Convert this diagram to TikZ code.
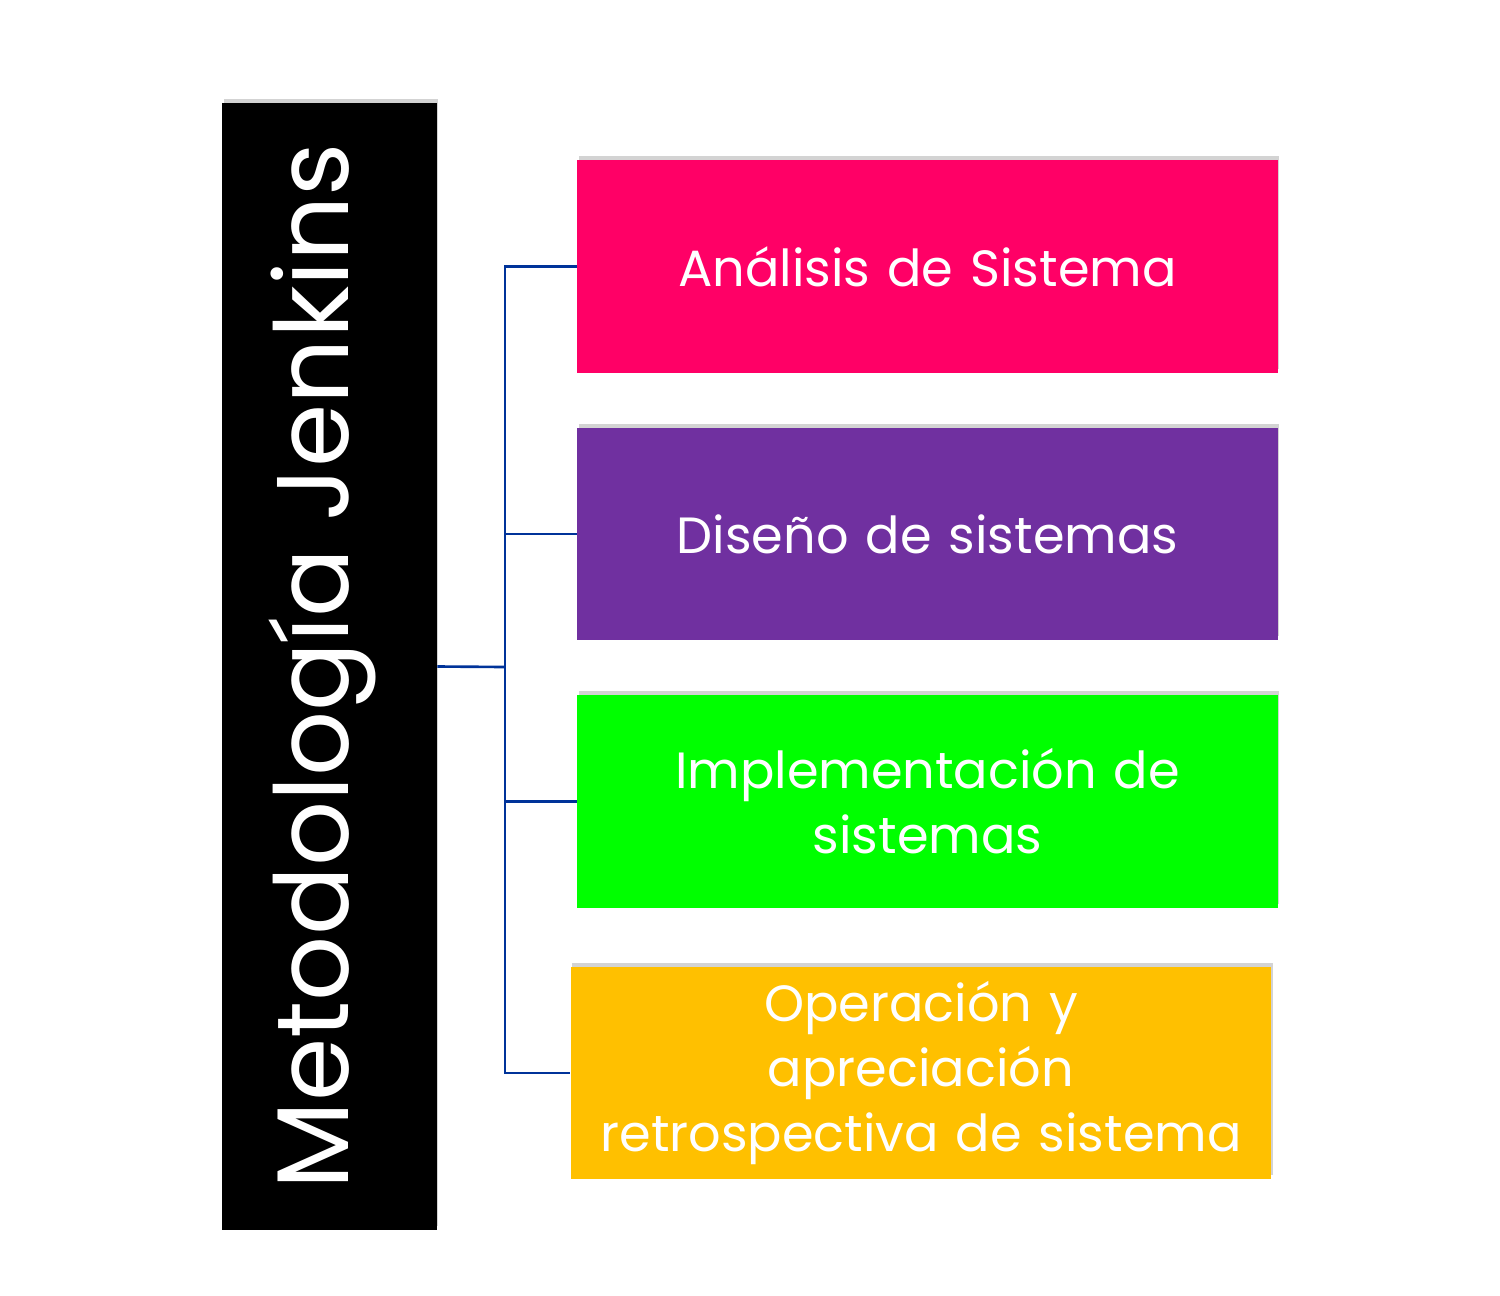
\documentclass[tikz,border=0pt]{standalone}
\usepackage{fontspec}
\setmainfont{Poppins}
\usetikzlibrary{shadows}
\definecolor{cA}{HTML}{FF0066}
\definecolor{cB}{HTML}{7030A0}
\definecolor{cC}{HTML}{00FF00}
\definecolor{cD}{HTML}{FFC000}
\definecolor{ln}{HTML}{003399}
\begin{document}
\begin{tikzpicture}[x=0.02cm,y=-0.02cm,
  box/.style={minimum width=14.02cm,minimum height=4.26cm,text width=13.8cm,align=center,text=white,font=\fontsize{29}{37}\selectfont,inner sep=0pt,drop shadow={shadow xshift=0.03cm,shadow yshift=0.08cm,opacity=0.35}},
  conn/.style={draw=ln,line width=1.5pt}]
\useasboundingbox (0,0) rectangle (1500,1295);
\node[fill=black,minimum width=4.3cm,minimum height=22.54cm,inner sep=0pt,drop shadow={shadow xshift=0.03cm,shadow yshift=0.08cm,opacity=0.35}] (m) at (329.5,666.5) {};
\node[rotate=90,text=white,font=\fontsize{58}{60}\selectfont,anchor=center] (mt) at (322,666) {Metodología Jenkins};
\node[box,fill=cA] (a) at (927.5,266.5) {Análisis de Sistema};
\node[box,fill=cB] (b) at (927.5,534) {Diseño de sistemas};
\node[box,fill=cC] (c) at (927.5,801.5) {Implementación de\\sistemas};
\node[box,fill=cD] (d) at (921,1073) {Operación y\\apreciación\\retrospectiva de sistema};
\coordinate (j) at (505,667);
\draw[conn] (m.east) -- (j);
\draw[conn] (a.west) -| (j) |- (d.west);
\draw[conn] (505,534) -- (b.west);
\draw[conn] (505,801.5) -- (c.west);
\end{tikzpicture}
\end{document}
